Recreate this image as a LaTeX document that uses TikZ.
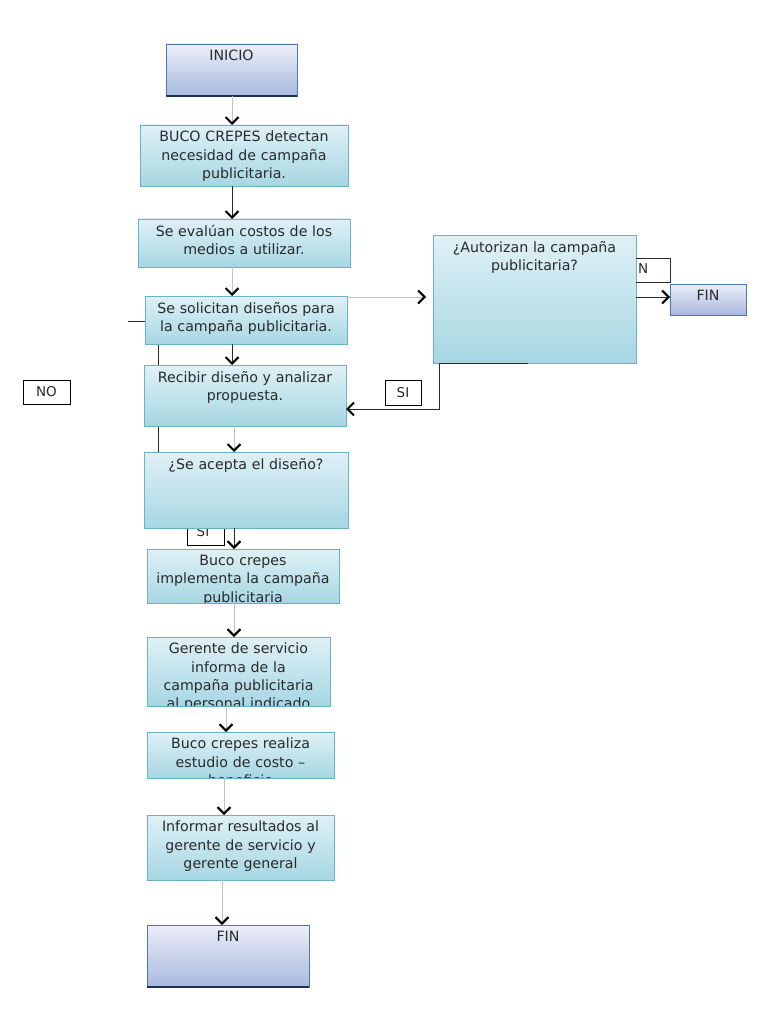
\documentclass[tikz,border=0pt]{standalone}
\usepackage{fontspec}
\setmainfont{DejaVu Sans}
\usetikzlibrary{arrows.meta,calc}
\definecolor{tealtop}{HTML}{DFF1F6}
\definecolor{tealbot}{HTML}{A6D6E3}
\definecolor{tealline}{HTML}{6AB3C7}
\definecolor{lavtop}{HTML}{EBEFF8}
\definecolor{lavbot}{HTML}{A8B8DE}
\definecolor{lavline}{HTML}{4F74B5}
\definecolor{lavshadow}{HTML}{1F2F55}
\definecolor{cgray}{HTML}{C4C4C4}
\definecolor{cdark}{HTML}{2A2A2A}
\tikzset{
  tealbox/.style={draw=tealline,line width=0.9pt,top color=tealtop,bottom color=tealbot,inner sep=0pt,outer sep=0pt},
  lavbox/.style={draw=lavline,line width=0.9pt,top color=lavtop,bottom color=lavbot,inner sep=0pt,outer sep=0pt},
  txt/.style={inner sep=0pt,align=center,font=\fontsize{14.2}{18.3}\selectfont,text=cdark},
  lbl/.style={draw=black,line width=0.9pt,fill=white,inner sep=0pt,outer sep=0pt,font=\fontsize{13.5}{16}\selectfont,text=cdark},
  tip/.tip={Straight Barb[length=6.5pt,width=13pt,line width=2pt,color=black]},
  garr/.style={draw=cgray,line width=1pt,-tip},
  barr/.style={draw=cdark,line width=1pt,-tip},
  bline/.style={draw=cdark,line width=1pt},
  shadowline/.style={draw=lavshadow,line width=1.2pt},
}
\newcommand\mkbox[7]{%
  \pgfmathsetmacro\bw{#4-#2}\pgfmathsetmacro\bh{#5-#3}\pgfmathsetmacro\tw{#4-#2-4}%
  \node[#6,minimum width=\bw pt,minimum height=\bh pt,anchor=north west] (#1) at (#2,#3) {};
  \begin{scope}
    \clip ([shift={(0.5pt,-0.5pt)}]#1.north west) rectangle ([shift={(-0.5pt,0.5pt)}]#1.south east);
    \node[txt,text width=\tw pt,anchor=north] (#1-t) at ([yshift=-6pt]#1.north) {#7};
  \end{scope}}
\begin{document}
\begin{tikzpicture}[x=1pt,y=-1pt]
\useasboundingbox[fill=white] (0,0) rectangle (768,1024);
\coordinate (x232) at (232,0);
\coordinate (x234) at (234,0);
\coordinate (x226) at (226,0);
\coordinate (x224) at (224,0);
\coordinate (x222) at (222,0);
\coordinate (x158) at (158,0);
\coordinate (stub) at (128,321);
\coordinate (y297) at (0,297);
\coordinate (elb) at (439,0);
\coordinate (shd) at (528,363);

% lines behind the boxes (NO loop)
\path (x158 |- 0,344) coordinate (lt) (x158 |- 0,452) coordinate (lb);
\draw[bline] (lt) -- (lb);

% SI label partly hidden
\node[lbl,minimum width=37pt,minimum height=24pt,anchor=north west] (si2) at (187,521) {};
\node[font=\fontsize{13.5}{16}\selectfont,text=cdark,inner sep=0pt] (si2t) at (203,532) {SI};

\mkbox{inicio}{166}{44}{297}{96}{lavbox}{INICIO}
\mkbox{buco}{140}{125}{348}{186}{tealbox}{BUCO CREPES detectan\\necesidad de campaña\\publicitaria.}
\mkbox{evaluan}{138}{219}{350}{267}{tealbox}{Se evalúan costos de los\\medios a utilizar.}
\mkbox{solicitan}{145}{296}{347}{344}{tealbox}{Se solicitan diseños para\\la campaña publicitaria.}
\mkbox{autorizan}{433}{235}{636}{363}{tealbox}{¿Autorizan la campaña\\publicitaria?}
\mkbox{fina}{670}{284}{746}{315}{lavbox}{FIN}
\mkbox{recibir}{144}{365}{346}{426}{tealbox}{Recibir diseño y analizar\\propuesta.}
\mkbox{acepta}{144}{452}{348}{528}{tealbox}{¿Se acepta el diseño?}
\mkbox{implementa}{147}{549}{339}{603}{tealbox}{Buco crepes\\implementa la campaña\\publicitaria}
\mkbox{gerente}{147}{637}{330}{706}{tealbox}{Gerente de servicio\\informa de la\\campaña publicitaria\\al personal indicado}
\mkbox{realiza}{147}{732}{334}{778}{tealbox}{Buco crepes realiza\\estudio de costo –\\beneficio}
\mkbox{informar}{147}{815}{334}{880}{tealbox}{Informar resultados al\\gerente de servicio y\\gerente general}
\mkbox{finb}{147}{925}{309}{987}{lavbox}{FIN}

% darker bottom edges of the start/end boxes
\draw[shadowline] (inicio.south west) -- (inicio.south east);
\draw[shadowline] (finb.south west) -- (finb.south east);

% labels
\node[lbl,minimum width=47pt,minimum height=24pt,anchor=north west] (no) at (23,380) {NO};
\node[lbl,minimum width=36pt,minimum height=25pt,anchor=north west] (si1) at (385,380) {SI};
\draw[bline] (autorizan.east |- 0,258) -- (670,258) coordinate (nr) -- (670,282) -- (autorizan.east |- 0,282);
\node[font=\fontsize{13.5}{16}\selectfont,text=cdark,inner sep=0pt,anchor=west] (nlbl) at (638,269) {N};

% connectors
\draw[garr] (x232 |- inicio.south) -- (x232 |- buco.north);
\draw[barr] (x232 |- buco.south) -- (x232 |- evaluan.north);
\draw[garr] (x232 |- evaluan.south) -- (x232 |- solicitan.north);
\draw[barr] (x232 |- solicitan.south) -- (x232 |- recibir.north);
\draw[garr] (solicitan.east |- y297) -- ([xshift=-7pt]autorizan.west |- y297);
\draw[barr] (autorizan.east |- y297) -- (fina.west |- y297);
\draw[barr] (shd) -- (elb |- autorizan.south) -- (elb |- 0,409) -- (recibir.east |- 0,409);
\draw[garr] (x234 |- recibir.south) -- (x234 |- acepta.north);
\draw[barr] (x234 |- acepta.south) -- (x234 |- implementa.north);
\draw[garr] (x234 |- implementa.south) -- (x234 |- gerente.north);
\draw[garr] (x226 |- gerente.south) -- (x226 |- realiza.north);
\draw[garr] (x224 |- realiza.south) -- (x224 |- informar.north);
\draw[garr] (x222 |- informar.south) -- (x222 |- finb.north);
\draw[bline] (stub) -- (solicitan.west |- stub);
\end{tikzpicture}
\end{document}
